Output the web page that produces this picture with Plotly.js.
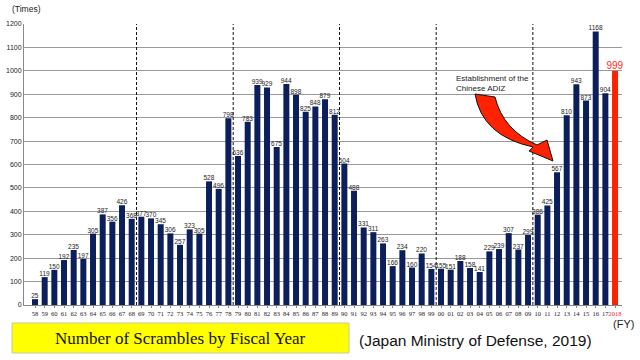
<!DOCTYPE html>
<html>
<head>
<meta charset="utf-8">
<script src="https://cdn.plot.ly/plotly-3.0.1.min.js"></script>
<style>html,body{margin:0;padding:0;background:#fff;}#chart{width:640px;height:360px;}</style>
</head>
<body>
<div id="chart"></div>
<script>
// Fiscal year labels
const years = ["58","59","60","61","62","63","64","65","66","67","68","69","70","71","72","73","74","75","76","77","78","79",
  "80","81","82","83","84","85","86","87","88","89","90","91","92","93","94","95","96","97","98","99",
  "00","01","02","03","04","05","06","07","08","09","10","11","12","13","14","15","16","17","2018"];
// Number of scrambles
const scrambles = [25,119,150,192,235,197,305,387,356,426,368,377,370,345,306,257,323,305,528,496,798,636,
  783,939,929,675,944,898,825,848,879,812,604,488,331,311,263,166,234,160,220,154,
  155,151,188,158,141,229,239,307,237,299,386,425,567,810,943,873,1168,904,999];
const yTicks = [0,100,200,300,400,500,600,700,800,900,1000,1100,1200];
const dividerAfter = ["68","78","89","99","09"];

const NAVY = "#0c1f5b", RED = "#ff2200";
const n = years.length;
const colors = years.map((y,i)=> i===n-1 ? RED : NAVY);
const txtColors = years.map((y,i)=> i===n-1 ? "#ff2a1a" : "#222");
const txtSizes = years.map((y,i)=> i===n-1 ? 10 : 6.5);

const trace = {
  type: "bar", x: years, y: scrambles,
  marker: {color: colors},
  text: scrambles.map(String), textposition: "outside", constraintext: "none",
  textfont: {family: "Liberation Sans, Arial", size: txtSizes, color: txtColors},
  cliponaxis: false, hoverinfo: "none"
};

const L=24, R=18, T=24, B=55, W=640, H=360;
const pw = W-L-R, ph = H-T-B;
const px = x => (x-L)/pw, py = y => (H-B-y)/ph;

const shapes = dividerAfter.map(lbl => {
  const i = years.indexOf(lbl) + 0.5;
  return {type:"line", xref:"x", yref:"y", x0:i, x1:i, y0:0, y1:1200,
    line:{color:"#111", width:1, dash:"3px,2px"}, layer:"above"};
});
// decorative arrow (pixel coords converted to paper)
const P = (x,y) => px(x).toFixed(4)+","+py(y).toFixed(4);
const arrowPath = "M"+P(475,94)+" L"+P(495,97)+" Q"+P(503,130)+" "+P(537,145)+
  " L"+P(547,140)+" L"+P(553,161)+" L"+P(529,151)+" L"+P(533,147)+
  " Q"+P(482,136)+" "+P(475,94)+" Z";
shapes.push({type:"path", xref:"paper", yref:"paper", path: arrowPath,
  fillcolor:"#ff2200", line:{color:"#111", width:1}, layer:"above"});
// yellow title box
shapes.push({type:"rect", xref:"paper", yref:"paper", x0:px(12), x1:px(349), y0:py(353), y1:py(323),
  fillcolor:"#ffff00", line:{color:"#c8c8a0", width:1}});

const tickText = years.map((y,i)=> i===n-1 ? '<span style="color:#e8281e">2018</span>' : y);

const layout = {
  width: W, height: H,
  margin: {l:L, r:R, t:T, b:B, pad:0},
  paper_bgcolor:"#fff", plot_bgcolor:"#fff",
  showlegend:false, bargap:0.38,
  font:{family:"Liberation Sans, Arial", color:"#222"},
  xaxis: {type:"category", range:[-1.14, 60.72], tickmode:"array", tickvals: years, ticktext: tickText,
    tickfont:{family:"Liberation Serif, Times New Roman", size:6.5, color:"#222"}, tickangle:0,
    showline:true, linecolor:"#888", linewidth:1, ticks:"outside", ticklen:2, tickcolor:"#888",
    showgrid:false, fixedrange:true},
  yaxis: {range:[0,1200], tickmode:"array", tickvals:yTicks,
    tickfont:{family:"Liberation Sans, Arial", size:7, color:"#222"},
    showgrid:true, gridcolor:"#9a9a9a", gridwidth:1, showline:true, linecolor:"#888",
    zeroline:false, ticks:"", fixedrange:true},
  shapes: shapes,
  annotations: [
    {xref:"paper", yref:"paper", x:px(10), y:py(9), xanchor:"left", yanchor:"middle", showarrow:false,
      text:"(Times)", font:{size:8.5, color:"#222"}},
    {xref:"paper", yref:"paper", x:px(454), y:py(83), xanchor:"left", yanchor:"middle", showarrow:false,
      align:"left", text:"Establishment of the<br>Chinese ADIZ", font:{size:8, color:"#222"}},
    {xref:"paper", yref:"paper", x:px(180), y:py(338), xanchor:"center", yanchor:"middle", showarrow:false,
      text:"Number of Scrambles by Fiscal Year", font:{family:"Liberation Serif, Times New Roman", size:17, color:"#111"}},
    {xref:"paper", yref:"paper", x:px(357), y:py(340), xanchor:"left", yanchor:"middle", showarrow:false,
      text:"(Japan Ministry of Defense, 2019)", font:{size:15.5, color:"#111"}},
    {xref:"paper", yref:"paper", x:px(636), y:py(324), xanchor:"right", yanchor:"middle", showarrow:false,
      text:"(FY)", font:{size:11, color:"#222"}}
  ]
};
Plotly.newPlot("chart", [trace], layout, {displayModeBar:false, staticPlot:true});
</script>
</body>
</html>
